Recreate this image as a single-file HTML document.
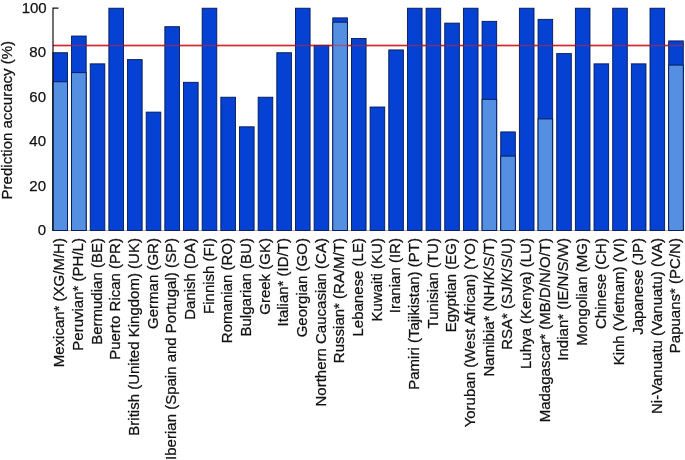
<!DOCTYPE html>
<html><head><meta charset="utf-8"><title>Prediction accuracy</title>
<style>html,body{margin:0;padding:0;background:#fff}svg{display:block}text{font-family:"Liberation Sans",Arial,Helvetica,sans-serif;font-size:15px;fill:#111;stroke:#111;stroke-width:0.25px}</style></head><body>
<svg width="685" height="460" viewBox="0 0 685 460">
<rect width="685" height="460" fill="#fff"/>
<path d="M52.5 230.5H683.73" stroke="#999" stroke-width="0.7"/>
<path d="M53 45.4H683.73" stroke="#d3262d" stroke-width="1.45"/>
<rect x="52.90" y="52.73" width="14.60" height="177.78" fill="#0541d2" stroke="#051856" stroke-width="0.9"/>
<rect x="52.90" y="81.79" width="14.60" height="148.71" fill="#548fe2" stroke="#051856" stroke-width="0.9"/>
<rect x="71.56" y="36.04" width="14.60" height="194.46" fill="#0541d2" stroke="#051856" stroke-width="0.9"/>
<rect x="71.56" y="72.67" width="14.60" height="157.83" fill="#548fe2" stroke="#051856" stroke-width="0.9"/>
<rect x="90.22" y="63.85" width="14.60" height="166.65" fill="#0541d2" stroke="#051856" stroke-width="0.9"/>
<rect x="108.88" y="8.22" width="14.60" height="222.28" fill="#0541d2" stroke="#051856" stroke-width="0.9"/>
<rect x="127.54" y="59.62" width="14.60" height="170.88" fill="#0541d2" stroke="#051856" stroke-width="0.9"/>
<rect x="146.20" y="112.13" width="14.60" height="118.37" fill="#0541d2" stroke="#051856" stroke-width="0.9"/>
<rect x="164.86" y="26.69" width="14.60" height="203.81" fill="#0541d2" stroke="#051856" stroke-width="0.9"/>
<rect x="183.52" y="82.32" width="14.60" height="148.18" fill="#0541d2" stroke="#051856" stroke-width="0.9"/>
<rect x="202.18" y="8.22" width="14.60" height="222.28" fill="#0541d2" stroke="#051856" stroke-width="0.9"/>
<rect x="220.84" y="97.22" width="14.60" height="133.28" fill="#0541d2" stroke="#051856" stroke-width="0.9"/>
<rect x="239.50" y="126.82" width="14.60" height="103.68" fill="#0541d2" stroke="#051856" stroke-width="0.9"/>
<rect x="258.16" y="97.22" width="14.60" height="133.28" fill="#0541d2" stroke="#051856" stroke-width="0.9"/>
<rect x="276.82" y="52.73" width="14.60" height="177.78" fill="#0541d2" stroke="#051856" stroke-width="0.9"/>
<rect x="295.48" y="8.22" width="14.60" height="222.28" fill="#0541d2" stroke="#051856" stroke-width="0.9"/>
<rect x="314.14" y="45.38" width="14.60" height="185.12" fill="#0541d2" stroke="#051856" stroke-width="0.9"/>
<rect x="332.80" y="17.90" width="14.60" height="212.60" fill="#0541d2" stroke="#051856" stroke-width="0.9"/>
<rect x="332.80" y="22.16" width="14.60" height="208.34" fill="#548fe2" stroke="#051856" stroke-width="0.9"/>
<rect x="351.46" y="38.48" width="14.60" height="192.02" fill="#0541d2" stroke="#051856" stroke-width="0.9"/>
<rect x="370.12" y="107.02" width="14.60" height="123.48" fill="#0541d2" stroke="#051856" stroke-width="0.9"/>
<rect x="388.78" y="49.94" width="14.60" height="180.56" fill="#0541d2" stroke="#051856" stroke-width="0.9"/>
<rect x="407.44" y="8.22" width="14.60" height="222.28" fill="#0541d2" stroke="#051856" stroke-width="0.9"/>
<rect x="426.10" y="8.22" width="14.60" height="222.28" fill="#0541d2" stroke="#051856" stroke-width="0.9"/>
<rect x="444.76" y="23.13" width="14.60" height="207.37" fill="#0541d2" stroke="#051856" stroke-width="0.9"/>
<rect x="463.42" y="8.22" width="14.60" height="222.28" fill="#0541d2" stroke="#051856" stroke-width="0.9"/>
<rect x="482.08" y="21.35" width="14.60" height="209.15" fill="#0541d2" stroke="#051856" stroke-width="0.9"/>
<rect x="482.08" y="99.37" width="14.60" height="131.13" fill="#548fe2" stroke="#051856" stroke-width="0.9"/>
<rect x="500.74" y="131.93" width="14.60" height="98.57" fill="#0541d2" stroke="#051856" stroke-width="0.9"/>
<rect x="500.74" y="156.11" width="14.60" height="74.39" fill="#548fe2" stroke="#051856" stroke-width="0.9"/>
<rect x="519.40" y="8.22" width="14.60" height="222.28" fill="#0541d2" stroke="#051856" stroke-width="0.9"/>
<rect x="538.06" y="19.35" width="14.60" height="211.15" fill="#0541d2" stroke="#051856" stroke-width="0.9"/>
<rect x="538.06" y="118.95" width="14.60" height="111.55" fill="#548fe2" stroke="#051856" stroke-width="0.9"/>
<rect x="556.72" y="53.61" width="14.60" height="176.89" fill="#0541d2" stroke="#051856" stroke-width="0.9"/>
<rect x="575.38" y="8.22" width="14.60" height="222.28" fill="#0541d2" stroke="#051856" stroke-width="0.9"/>
<rect x="594.04" y="63.85" width="14.60" height="166.65" fill="#0541d2" stroke="#051856" stroke-width="0.9"/>
<rect x="612.70" y="8.22" width="14.60" height="222.28" fill="#0541d2" stroke="#051856" stroke-width="0.9"/>
<rect x="631.36" y="63.85" width="14.60" height="166.65" fill="#0541d2" stroke="#051856" stroke-width="0.9"/>
<rect x="650.02" y="8.22" width="14.60" height="222.28" fill="#0541d2" stroke="#051856" stroke-width="0.9"/>
<rect x="668.68" y="40.93" width="14.60" height="189.57" fill="#0541d2" stroke="#051856" stroke-width="0.9"/>
<rect x="668.68" y="65.11" width="14.60" height="165.40" fill="#548fe2" stroke="#051856" stroke-width="0.9"/>
<path d="M53 45.4H683.73" stroke="#d3262d" stroke-width="1.45" opacity="0.5"/>
<path d="M58.5 8.2H53V230.5" fill="none" stroke="#111" stroke-width="1.2"/>
<text x="46" y="235.00" text-anchor="end">0</text>
<text x="46" y="190.50" text-anchor="end">20</text>
<text x="46" y="146.00" text-anchor="end">40</text>
<text x="46" y="101.50" text-anchor="end">60</text>
<text x="46" y="57.00" text-anchor="end">80</text>
<text x="46.7" y="12.50" text-anchor="end">100</text>
<text transform="translate(12.4,120.2) rotate(-90)" text-anchor="middle">Prediction accuracy (%)</text>
<text transform="translate(64.40,238.1) rotate(-90)" text-anchor="end">Mexican* (XG/M/H)</text>
<text transform="translate(83.06,238.1) rotate(-90)" text-anchor="end">Peruvian* (PH/L)</text>
<text transform="translate(101.72,238.1) rotate(-90)" text-anchor="end">Bermudian (BE)</text>
<text transform="translate(120.38,238.1) rotate(-90)" text-anchor="end">Puerto Rican (PR)</text>
<text transform="translate(139.04,238.1) rotate(-90)" text-anchor="end">British (United Kingdom) (UK)</text>
<text transform="translate(157.70,238.1) rotate(-90)" text-anchor="end">German (GR)</text>
<text transform="translate(176.36,238.1) rotate(-90)" text-anchor="end">Iberian (Spain and Portugal) (SP)</text>
<text transform="translate(195.02,238.1) rotate(-90)" text-anchor="end">Danish (DA)</text>
<text transform="translate(213.68,238.1) rotate(-90)" text-anchor="end">Finnish (FI)</text>
<text transform="translate(232.34,238.1) rotate(-90)" text-anchor="end">Romanian (RO)</text>
<text transform="translate(251.00,238.1) rotate(-90)" text-anchor="end">Bulgarian (BU)</text>
<text transform="translate(269.66,238.1) rotate(-90)" text-anchor="end">Greek (GK)</text>
<text transform="translate(288.32,238.1) rotate(-90)" text-anchor="end">Italian* (ID/T)</text>
<text transform="translate(306.98,238.1) rotate(-90)" text-anchor="end">Georgian (GO)</text>
<text transform="translate(325.64,238.1) rotate(-90)" text-anchor="end">Northern Caucasian (CA)</text>
<text transform="translate(344.30,238.1) rotate(-90)" text-anchor="end">Russian* (RA/M/T)</text>
<text transform="translate(362.96,238.1) rotate(-90)" text-anchor="end">Lebanese (LE)</text>
<text transform="translate(381.62,238.1) rotate(-90)" text-anchor="end">Kuwaiti (KU)</text>
<text transform="translate(400.28,238.1) rotate(-90)" text-anchor="end">Iranian (IR)</text>
<text transform="translate(418.94,238.1) rotate(-90)" text-anchor="end">Pamiri (Tajikistan) (PT)</text>
<text transform="translate(437.60,238.1) rotate(-90)" text-anchor="end">Tunisian (TU)</text>
<text transform="translate(456.26,238.1) rotate(-90)" text-anchor="end">Egyptian (EG)</text>
<text transform="translate(474.92,238.1) rotate(-90)" text-anchor="end">Yoruban (West African) (YO)</text>
<text transform="translate(493.58,238.1) rotate(-90)" text-anchor="end">Namibia* (NH/K/S/T)</text>
<text transform="translate(512.24,238.1) rotate(-90)" text-anchor="end">RSA* (SJ/K/S/U)</text>
<text transform="translate(530.90,238.1) rotate(-90)" text-anchor="end">Luhya (Kenya) (LU)</text>
<text transform="translate(549.56,238.1) rotate(-90)" text-anchor="end">Madagascar* (MB/D/N/O/T)</text>
<text transform="translate(568.22,238.1) rotate(-90)" text-anchor="end">Indian* (IE/N/S/W)</text>
<text transform="translate(586.88,238.1) rotate(-90)" text-anchor="end">Mongolian (MG)</text>
<text transform="translate(605.54,238.1) rotate(-90)" text-anchor="end">Chinese (CH)</text>
<text transform="translate(624.20,238.1) rotate(-90)" text-anchor="end">Kinh (Vietnam) (VI)</text>
<text transform="translate(642.86,238.1) rotate(-90)" text-anchor="end">Japanese (JP)</text>
<text transform="translate(661.52,238.1) rotate(-90)" text-anchor="end">Ni-Vanuatu (Vanuatu) (VA)</text>
<text transform="translate(680.18,238.1) rotate(-90)" text-anchor="end">Papuans* (PC/N)</text>
</svg></body></html>
